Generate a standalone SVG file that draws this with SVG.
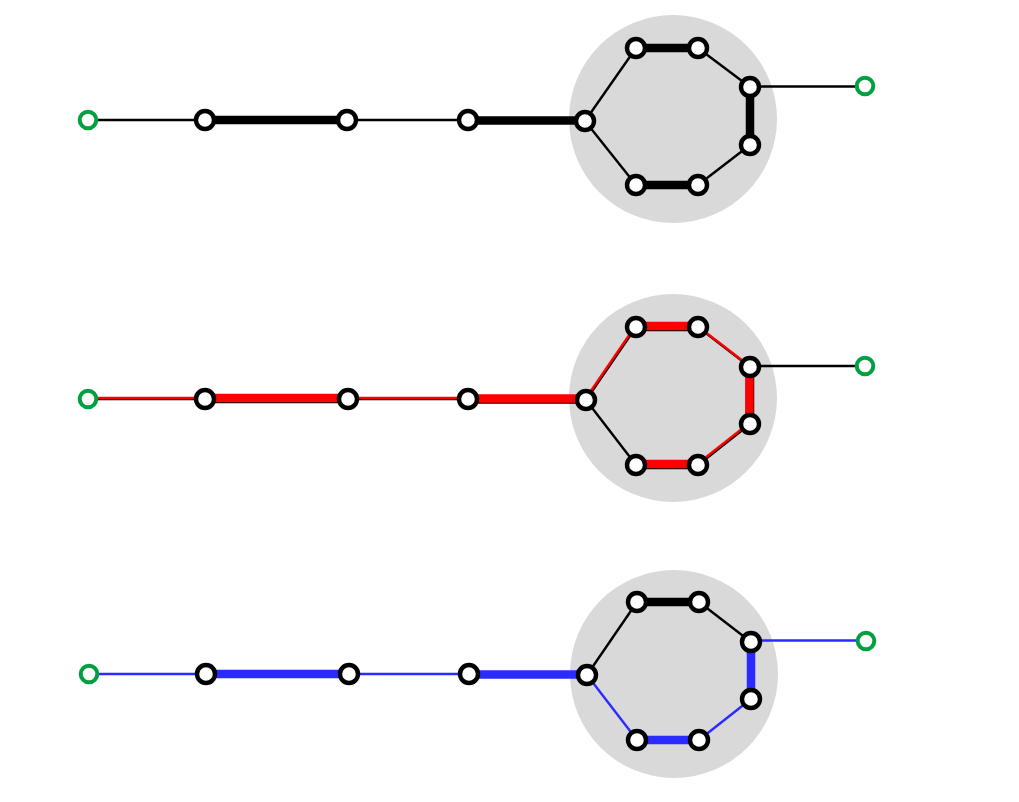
<svg xmlns="http://www.w3.org/2000/svg" width="1019" height="802" viewBox="0 0 1019 802">
<style>
.bg{fill:#d9d9d9}
.k{stroke:#000;fill:none;stroke-linecap:butt}
.r{stroke:#ff0000;fill:none}
.b{stroke:#2b2bff;fill:none}
.t{stroke-width:2.4}
.T{stroke-width:8.5}
.n{fill:#fff;stroke:#000;stroke-width:4.4}
.g{fill:#fff;stroke:#00a040;stroke-width:4}
</style>
<rect width="1019" height="802" fill="#fff"/>

<!-- ===== Diagram 1 ===== -->
<g id="diagram1">
  <circle class="bg" cx="673" cy="119" r="104"/>
  <g id="connectors1">
    <line class="k t" x1="88" y1="120" x2="205" y2="120"/>
    <line class="k T" x1="205" y1="120" x2="347" y2="120"/>
    <line class="k t" x1="347" y1="120" x2="468" y2="120"/>
    <line class="k T" x1="468" y1="120.5" x2="585" y2="120.5"/>
    <line class="k t" x1="585" y1="121" x2="636" y2="48"/>
    <line class="k T" x1="636" y1="48" x2="698" y2="48"/>
    <line class="k t" x1="698" y1="48" x2="750" y2="87"/>
    <line class="k T" x1="750" y1="87" x2="750" y2="145"/>
    <line class="k t" x1="750" y1="145" x2="698" y2="185"/>
    <line class="k T" x1="698" y1="185" x2="636" y2="185"/>
    <line class="k t" x1="636" y1="185" x2="585" y2="121"/>
    <line class="k t" x1="750" y1="86.5" x2="865" y2="86.5"/>
  </g>
  <g id="d1-start"><circle class="g" cx="88" cy="120" r="8.3"/></g>
  <g id="d1-n1"><circle class="n" cx="205" cy="120" r="9"/></g>
  <g id="d1-n2"><circle class="n" cx="347" cy="120" r="9"/></g>
  <g id="d1-n3"><circle class="n" cx="468" cy="120" r="9"/></g>
  <g id="d1-n4"><circle class="n" cx="585" cy="121" r="9"/></g>
  <g id="d1-n5"><circle class="n" cx="636" cy="48" r="9"/></g>
  <g id="d1-n6"><circle class="n" cx="698" cy="48" r="9"/></g>
  <g id="d1-n7"><circle class="n" cx="750" cy="87" r="9"/></g>
  <g id="d1-n8"><circle class="n" cx="750" cy="145" r="9"/></g>
  <g id="d1-n9"><circle class="n" cx="698" cy="185" r="9"/></g>
  <g id="d1-n10"><circle class="n" cx="636" cy="185" r="9"/></g>
  <g id="d1-end"><circle class="g" cx="865" cy="86" r="8.3"/></g>
</g>

<!-- ===== Diagram 2 ===== -->
<g id="diagram2">
  <circle class="bg" cx="673" cy="398" r="104"/>
  <g id="connectors2">
    <line class="k t" x1="88" y1="399" x2="205" y2="399"/>
    <line class="k T" x1="205" y1="399" x2="348" y2="399"/>
    <line class="k t" x1="348" y1="399" x2="468" y2="399"/>
    <line class="k T" x1="468" y1="399.5" x2="586" y2="399.5"/>
    <line class="k t" x1="586" y1="400" x2="636" y2="327"/>
    <line class="k T" x1="636" y1="327" x2="698" y2="327"/>
    <line class="k t" x1="698" y1="327" x2="750" y2="367"/>
    <line class="k T" x1="750" y1="367" x2="750" y2="424"/>
    <line class="k t" x1="750" y1="424" x2="698" y2="465"/>
    <line class="k T" x1="698" y1="465" x2="636" y2="465"/>
    <line class="k t" x1="636" y1="465" x2="586" y2="400"/>
    <line class="k t" x1="750" y1="366" x2="865" y2="366"/>
    <g transform="translate(-0.6,-1)">
      <line class="r t" x1="88" y1="399" x2="205" y2="399"/>
      <line class="r T" x1="205" y1="399" x2="348" y2="399"/>
      <line class="r t" x1="348" y1="399" x2="468" y2="399"/>
      <line class="r T" x1="468" y1="399.5" x2="586" y2="399.5"/>
      <line class="r t" x1="586" y1="400" x2="636" y2="327"/>
      <line class="r T" x1="636" y1="327" x2="698" y2="327"/>
      <line class="r t" x1="698" y1="327" x2="750" y2="367"/>
      <line class="r T" x1="750" y1="367" x2="750" y2="424"/>
      <line class="r t" x1="750" y1="424" x2="698" y2="465"/>
      <line class="r T" x1="698" y1="465" x2="636" y2="465"/>
    </g>
  </g>
  <g id="d2-start"><circle class="g" cx="88" cy="399" r="8.3"/></g>
  <g id="d2-n1"><circle class="n" cx="205" cy="399" r="9"/></g>
  <g id="d2-n2"><circle class="n" cx="348" cy="399" r="9"/></g>
  <g id="d2-n3"><circle class="n" cx="468" cy="399" r="9"/></g>
  <g id="d2-n4"><circle class="n" cx="586" cy="400" r="9"/></g>
  <g id="d2-n5"><circle class="n" cx="636" cy="327" r="9"/></g>
  <g id="d2-n6"><circle class="n" cx="698" cy="327" r="9"/></g>
  <g id="d2-n7"><circle class="n" cx="750" cy="367" r="9"/></g>
  <g id="d2-n8"><circle class="n" cx="750" cy="424" r="9"/></g>
  <g id="d2-n9"><circle class="n" cx="698" cy="465" r="9"/></g>
  <g id="d2-n10"><circle class="n" cx="636" cy="465" r="9"/></g>
  <g id="d2-end"><circle class="g" cx="865" cy="366" r="8.3"/></g>
</g>

<!-- ===== Diagram 3 ===== -->
<g id="diagram3">
  <circle class="bg" cx="674" cy="674" r="104"/>
  <g id="connectors3">
    <line class="b t" x1="89" y1="674" x2="206" y2="674"/>
    <line class="b T" x1="206" y1="674" x2="349" y2="674"/>
    <line class="b t" x1="349" y1="674" x2="469" y2="674"/>
    <line class="b T" x1="469" y1="674.5" x2="587" y2="674.5"/>
    <line class="k t" x1="587" y1="675" x2="637" y2="602"/>
    <line class="k T" x1="637" y1="602" x2="699" y2="602"/>
    <line class="k t" x1="699" y1="602" x2="751" y2="642"/>
    <line class="b T" x1="751" y1="642" x2="751" y2="699"/>
    <line class="b t" x1="751" y1="699" x2="699" y2="740"/>
    <line class="b T" x1="699" y1="740" x2="637" y2="740"/>
    <line class="b t" x1="637" y1="740" x2="587" y2="675"/>
    <line class="b t" x1="751" y1="640.5" x2="866" y2="640.5"/>
  </g>
  <g id="d3-start"><circle class="g" cx="89" cy="674" r="8.3"/></g>
  <g id="d3-n1"><circle class="n" cx="206" cy="674" r="9"/></g>
  <g id="d3-n2"><circle class="n" cx="349" cy="674" r="9"/></g>
  <g id="d3-n3"><circle class="n" cx="469" cy="674" r="9"/></g>
  <g id="d3-n4"><circle class="n" cx="587" cy="675" r="9"/></g>
  <g id="d3-n5"><circle class="n" cx="637" cy="602" r="9"/></g>
  <g id="d3-n6"><circle class="n" cx="699" cy="602" r="9"/></g>
  <g id="d3-n7"><circle class="n" cx="751" cy="642" r="9"/></g>
  <g id="d3-n8"><circle class="n" cx="751" cy="699" r="9"/></g>
  <g id="d3-n9"><circle class="n" cx="699" cy="740" r="9"/></g>
  <g id="d3-n10"><circle class="n" cx="637" cy="740" r="9"/></g>
  <g id="d3-end"><circle class="g" cx="866" cy="641" r="8.3"/></g>
</g>
</svg>
